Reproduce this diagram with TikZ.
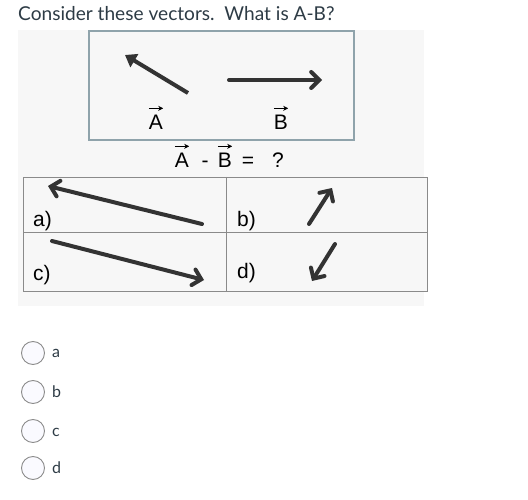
\documentclass[tikz,border=0pt]{standalone}
\usepackage{fontspec}
\setmainfont{Lato}
\newfontfamily\arialf{Liberation Sans}
\usetikzlibrary{arrows.meta}
\definecolor{bgc}{HTML}{F7F7F7}
\definecolor{boxc}{HTML}{8FA3AB}
\definecolor{arrc}{HTML}{333333}
\definecolor{txtc}{HTML}{2D3B45}
\definecolor{gridc}{HTML}{8A8A8A}
\tikzset{
  vec/.style={line width=4pt, draw=arrc, -{Straight Barb[length=8pt,width=16pt,line cap=round]}, line cap=round},
  veca/.style={line width=4pt, draw=arrc, -{Triangle[length=11pt,width=15pt]}},
  lbl/.style={font=\arialf\fontsize{21}{21}\selectfont, text=black, inner sep=0pt, anchor=base west},
  over/.style={line width=1.2pt, -{Stealth[length=5pt,width=5pt]}},
  radio/.style={circle, draw=gray!90, fill=blue!2, minimum size=23pt, inner sep=0pt, line width=0.9pt},
  opt/.style={font=\fontsize{16}{16}\selectfont, text=txtc, anchor=base west, inner sep=0pt}
}
\begin{document}
\begin{tikzpicture}[x=1pt,y=-1pt]
\useasboundingbox (0,0) rectangle (528,500);
\node[font=\fontsize{19.1}{19.1}\selectfont, text=txtc, anchor=base west, inner sep=0pt] (title) at (18,21) {Consider these vectors.\ \ What is A-B?};
\fill[bgc] (18,30) rectangle (424,306);
\draw[boxc, line width=1.5pt, fill=bgc] (89,31) rectangle (354,140);
% vectors
\coordinate (a0) at (188,93); \coordinate (a1) at (125,55);
\draw[veca] (a0) -- (a1);
\coordinate (b0) at (229,80); \coordinate (b1) at (322,80);
\draw[vec] (b0) -- (b1);
\node[lbl, anchor=base] (LA) at (156,130) {A};
\node[lbl, anchor=base] (LB) at (281,130) {B};
\draw[over] ([yshift=7pt]LA.north west) -- ([yshift=7pt]LA.north east);
\draw[over] ([yshift=7pt]LB.north west) -- ([yshift=7pt]LB.north east);
% equation
\node[lbl, anchor=base] (EA) at (182,168) {A};
\node[lbl, anchor=base] (EM) at (205,168) {-};
\node[lbl, anchor=base] (EB) at (225,168) {B};
\node[lbl, anchor=base] (EE) at (248,168) {=};
\node[lbl, anchor=base] (EQ) at (278,168) {?};
\draw[over] ([yshift=7pt]EA.north west) -- ([yshift=7pt]EA.north east);
\draw[over] ([yshift=7pt]EB.north west) -- ([yshift=7pt]EB.north east);
% table
\draw[gridc, line width=0.8pt, fill=bgc] (23,177) rectangle (427,291);
\draw[gridc, line width=0.8pt] (23,232) -- (427,232);
\draw[gridc, line width=0.8pt] (226,177) -- (226,291);
\node[lbl] (la) at (33,226) {a)};
\node[lbl] (lb) at (237,226) {b)};
\node[lbl] (lc) at (33,280) {c)};
\node[lbl] (ld) at (237,279) {d)};
\coordinate (pa0) at (202,224); \coordinate (pa1) at (48,186);
\coordinate (pb0) at (309,224); \coordinate (pb1) at (332,188);
\coordinate (pc0) at (52,241); \coordinate (pc1) at (204,280);
\coordinate (pd0) at (335,244); \coordinate (pd1) at (312,281);
\draw[vec] (pa0) -- (pa1);
\draw[vec] (pb0) -- (pb1);
\draw[vec] (pc0) -- (pc1);
\draw[vec] (pd0) -- (pd1);
% options
\node[radio] (r1) at (33,353) {};
\node[radio] (r2) at (33,392) {};
\node[radio] (r3) at (33,431) {};
\node[radio] (r4) at (33,468) {};
\node[opt] (o1) at (52,357) {a};
\node[opt] (o2) at (52,397) {b};
\node[opt] (o3) at (52,436) {c};
\node[opt] (o4) at (52,473) {d};
\end{tikzpicture}
\end{document}
